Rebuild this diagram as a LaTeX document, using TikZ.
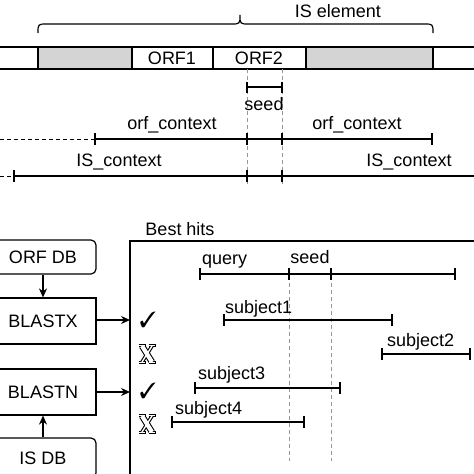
\documentclass[tikz,border=0pt]{standalone}
\usepackage{fontspec}
\setmainfont{Liberation Sans}
\usepackage{pifont}
\usetikzlibrary{arrows.meta}
\definecolor{segfill}{RGB}{212,212,212}
\definecolor{guidegray}{RGB}{150,150,150}
\tikzset{
  lbl/.style={inner sep=0pt, anchor=base, font=\fontsize{18}{20}\selectfont},
  lblw/.style={lbl, anchor=base west},
  barline/.style={line width=1.2pt},
  ctxline/.style={line width=2pt},
  ctxtick/.style={line width=2pt},
  hitline/.style={line width=1.4pt},
  dashctx/.style={line width=1pt, dash pattern=on 4pt off 3pt},
  guide/.style={guidegray, line width=0.9pt, dash pattern=on 4pt off 3pt},
  dbbox/.style={draw, line width=1.2pt, rounded corners=5pt, minimum width=106pt, minimum height=34pt, inner sep=0pt, font=\fontsize{18}{20}\selectfont},
  toolbox/.style={draw, line width=1.2pt, minimum width=106pt, minimum height=46pt, inner sep=0pt, font=\fontsize{18}{20}\selectfont},
  flow/.style={line width=1.2pt, -{Stealth[length=9pt,width=8pt]}},
  checkmk/.style={inner sep=0pt, font=\fontsize{22}{22}\selectfont},
  hollowx/.pic={
    \draw[black, line width=6.4pt] (-5,-8) -- (5,8);
    \draw[black, line width=3.6pt] (5,-8) -- (-5,8);
    \draw[black, line width=3pt] (-8.5,-8.5) -- (-1.5,-8.5) (1.5,-8.5) -- (8.5,-8.5)
                                 (-8.5,8.5) -- (-1.5,8.5) (1.5,8.5) -- (8.5,8.5);
    \draw[white, line width=4.2pt] (-5,-8) -- (5,8);
    \draw[white, line width=1.4pt] (5,-8) -- (-5,8);
    \draw[white, line width=0.9pt] (-7.6,-8.5) -- (-2.4,-8.5) (2.4,-8.5) -- (7.6,-8.5)
                                   (-7.6,8.5) -- (-2.4,8.5) (2.4,8.5) -- (7.6,8.5);
  },
}
\newcommand{\tickmark}[3]{\draw[#3] ([yshift=#2]#1) -- ([yshift=-#2]#1);}
\begin{document}
\begin{tikzpicture}[x=1pt,y=-1pt]
\useasboundingbox (0,0) rectangle (474,474);
% ---------- top: IS element ----------
\draw[barline] (38,33) .. controls (38,24) .. (47,24) -- (231,24) .. controls (240,24) .. (240,15) .. controls (240,24) .. (249,24) -- (424,24) .. controls (433,24) .. (433,33);
\node[lbl] (iselem) at (338,17) {IS element};
\fill[segfill] (38,47) rectangle (132,69);
\fill[segfill] (306,47) rectangle (433,69);
\draw[barline] (-5,47) -- (480,47);
\draw[barline] (-5,69) -- (480,69);
\foreach \x in {38,132,213,306,433} \draw[barline] (\x,47) -- (\x,69);
\node[lbl] (orf1) at (172,64) {ORF1};
\node[lbl] (orf2) at (259,64) {ORF2};
% guides
\coordinate (ga1) at (247,69); \coordinate (ga2) at (247,184);
\coordinate (gb1) at (282,69); \coordinate (gb2) at (282,184);
\draw[guide] (ga1) -- (ga2);
\draw[guide] (gb1) -- (gb2);
% seed
\coordinate (s1) at (247,87); \coordinate (s2) at (282,87);
\draw[line width=1.1pt] (s1) -- (s2);
\tickmark{s1}{5.5pt}{line width=1.1pt}
\tickmark{s2}{5.5pt}{line width=1.1pt}
\node[lbl] (seedtop) at (264,110) {seed};
% orf_context
\coordinate (o0) at (0,139); \coordinate (o1) at (95,139); \coordinate (o2) at (247,139);
\coordinate (o3) at (282,139); \coordinate (o4) at (432,139);
\draw[dashctx] (o0) -- (o1);
\draw[ctxline] (o1) -- (o4);
\foreach \c in {o1,o2,o3,o4} {\tickmark{\c}{6pt}{ctxtick}}
\node[lbl] (orfcl) at (172,129) {orf\_context};
\node[lbl] (orfcr) at (357,129) {orf\_context};
% IS_context
\coordinate (i0) at (0,176); \coordinate (i1) at (14,176); \coordinate (i2) at (247,176);
\coordinate (i3) at (282,176); \coordinate (i4) at (480,176);
\draw[dashctx] (i0) -- (i1);
\draw[ctxline] (i1) -- (i4);
\foreach \c in {i1,i2,i3} {\tickmark{\c}{6pt}{ctxtick}}
\node[lbl] (iscl) at (119,166) {IS\_context};
\node[lbl] (iscr) at (409,166) {IS\_context};
% ---------- bottom: pipeline ----------
\node[dbbox] (orfdb) at (43,257) {ORF DB};
\node[toolbox] (blastx) at (43,321) {BLASTX};
\node[toolbox] (blastn) at (43,392) {BLASTN};
\node[dbbox, minimum height=40pt] (isdb) at (43,458) {IS DB};
\draw[flow] (orfdb) -- (blastx);
\draw[flow] (isdb) -- (blastn);
\draw[line width=1.1pt] (130,480) -- (130,241) -- (480,241);
\coordinate (hx) at (130,320); \coordinate (hn) at (130,392);
\draw[flow] (blastx.east |- hx) -- (hx);
\draw[flow] (blastn.east |- hn) -- (hn);
\node[lbl] (besthits) at (180,235) {Best hits};
\node[checkmk] (ck1) at (148,320) {\ding{51}};
\node[checkmk] (ck2) at (148,391) {\ding{51}};
\pic at (147,354) {hollowx};
\pic at (147,424) {hollowx};
% guides bottom
\coordinate (gc1) at (289,276); \coordinate (gc2) at (289,461);
\coordinate (gd1) at (331,276); \coordinate (gd2) at (331,461);
\draw[guide] (gc1) -- (gc2);
\draw[guide] (gd1) -- (gd2);
% query
\coordinate (q1) at (200,274); \coordinate (q2) at (289,274); \coordinate (q3) at (331,274); \coordinate (q4) at (455,274);
\draw[hitline] (q1) -- (q4);
\foreach \c in {q1,q2,q3,q4} {\tickmark{\c}{6pt}{hitline}}
\node[lblw] (query) at (202,264) {query};
\node[lbl] (seedbot) at (310,263) {seed};
% subjects
\coordinate (a1) at (224,320); \coordinate (a2) at (392,320);
\draw[hitline] (a1) -- (a2); \tickmark{a1}{6pt}{hitline} \tickmark{a2}{6pt}{hitline}
\node[lblw] (sub1) at (225,313) {subject1};
\coordinate (b1) at (382,354); \coordinate (b2) at (470,354);
\draw[hitline] (b1) -- (b2); \tickmark{b1}{6pt}{hitline} \tickmark{b2}{6pt}{hitline}
\node[lblw] (sub2) at (387,346) {subject2};
\coordinate (c1) at (195,388); \coordinate (c2) at (340,388);
\draw[hitline] (c1) -- (c2); \tickmark{c1}{6pt}{hitline} \tickmark{c2}{6pt}{hitline}
\node[lblw] (sub3) at (198,379) {subject3};
\coordinate (d1) at (172,422); \coordinate (d2) at (304,422);
\draw[hitline] (d1) -- (d2); \tickmark{d1}{6pt}{hitline} \tickmark{d2}{6pt}{hitline}
\node[lblw] (sub4) at (175,414) {subject4};
\end{tikzpicture}
\end{document}
